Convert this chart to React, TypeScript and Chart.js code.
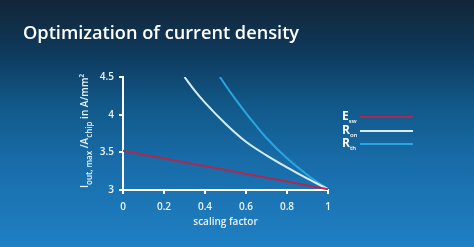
import React, { useEffect, useRef } from "react";
import { Chart, registerables } from "chart.js";

Chart.register(...registerables);

const TITLE = "Optimization of current density";
const X_TITLE = "scaling factor";

const xTicks = [0, 0.2, 0.4, 0.6, 0.8, 1];
const yTicks = [3, 3.5, 4, 4.5];

const eswX = [0, 1];
const eswY = [3.52, 3.01];

const ronX = [0.3, 0.35, 0.4, 0.5, 0.6, 0.7, 0.8, 0.9, 1.0];
const ronY = [4.5, 4.32, 4.16, 3.88, 3.64, 3.46, 3.3, 3.15, 3.01];

const rthX = [0.473, 0.5, 0.55, 0.6, 0.65, 0.7, 0.8, 0.9, 1.0];
const rthY = [4.5, 4.39, 4.2, 4.02, 3.85, 3.69, 3.42, 3.2, 3.01];

const seriesNames = [
  { main: "E", sub: "sw" },
  { main: "R", sub: "on" },
  { main: "R", sub: "th" },
];
const seriesColors = ["#b02850", "#d6eef9", "#2aa5df"];

const FONT = "'Open Sans', 'DejaVu Sans', sans-serif";

const toPts = (xs: number[], ys: number[]) => xs.map((x, i) => ({ x, y: ys[i] }));

const overlayPlugin = {
  id: "overlay",
  afterDraw(chart: any) {
    const ctx = chart.ctx as CanvasRenderingContext2D;
    const area = chart.chartArea;
    ctx.save();
    // Title
    ctx.fillStyle = "#ffffff";
    ctx.textBaseline = "alphabetic";
    ctx.textAlign = "left";
    ctx.font = `600 18.2px ${FONT}`;
    ctx.fillText(TITLE, 23, 39);

    // X axis title
    ctx.font = `600 10px ${FONT}`;
    ctx.textAlign = "center";
    ctx.fillStyle = "#e8f2fa";
    ctx.fillText(X_TITLE, (area.left + area.right) / 2, 225);

    // Y axis title (rotated, with subscripts)
    ctx.save();
    ctx.translate(88, 188);
    ctx.rotate(-Math.PI / 2);
    ctx.textAlign = "left";
    const parts: { t: string; sub: boolean }[] = [
      { t: "I", sub: false },
      { t: "out, max", sub: true },
      { t: " /A", sub: false },
      { t: "chip", sub: true },
      { t: " in A/mm²", sub: false },
    ];
    let cx = 0;
    for (const p of parts) {
      ctx.font = p.sub ? `600 8px ${FONT}` : `600 10px ${FONT}`;
      ctx.fillText(p.t, cx, p.sub ? 4 : 0);
      cx += ctx.measureText(p.t).width;
    }
    ctx.restore();

    // Legend
    const legY = [117, 131, 144];
    seriesNames.forEach((n, i) => {
      const y = legY[i];
      ctx.fillStyle = "#ffffff";
      ctx.font = `700 12px ${FONT}`;
      ctx.textAlign = "left";
      ctx.textBaseline = "alphabetic";
      ctx.fillText(n.main, 342, y + 3);
      const w = ctx.measureText(n.main).width;
      ctx.font = `600 6px ${FONT}`;
      ctx.fillText(n.sub, 342 + w, y + 6);
      ctx.strokeStyle = seriesColors[i];
      ctx.lineWidth = 2;
      ctx.beginPath();
      ctx.moveTo(360, y);
      ctx.lineTo(413, y);
      ctx.stroke();
    });
    ctx.restore();
  },
};

export default function App() {
  const ref = useRef<HTMLCanvasElement>(null);
  useEffect(() => {
    document.body.style.margin = "0";
    const canvas = ref.current!;
    const chart = new Chart(canvas, {
      type: "scatter",
      data: {
        datasets: [
          { label: "Esw", data: toPts(eswX, eswY), borderColor: seriesColors[0] },
          { label: "Ron", data: toPts(ronX, ronY), borderColor: seriesColors[1] },
          { label: "Rth", data: toPts(rthX, rthY), borderColor: seriesColors[2] },
        ].map((d) => ({
          ...d,
          showLine: true,
          borderWidth: 2,
          pointRadius: 0,
          cubicInterpolationMode: "monotone" as const,
          fill: false,
        })),
      },
      options: {
        animation: false,
        responsive: false,
        layout: { padding: { top: 77, right: 146, left: 0, bottom: 0 } },
        plugins: { legend: { display: false }, tooltip: { enabled: false } },
        scales: {
          x: {
            type: "linear",
            min: 0,
            max: 1,
            afterFit: (s: any) => { s.height = 57; },
            afterBuildTicks: (s: any) => { s.ticks = xTicks.map((v) => ({ value: v })); },
            border: { color: "#ffffff", width: 2 },
            grid: { display: true, drawOnChartArea: false, drawTicks: true, tickLength: 4, color: "#ffffff", lineWidth: 2 },
            ticks: {
              color: "#eef5fb",
              font: { family: FONT, size: 10, weight: "600" },
              padding: 7,
              maxRotation: 0,
              callback: (v: any) => String(v),
            },
          },
          y: {
            type: "linear",
            min: 3,
            max: 4.5,
            afterFit: (s: any) => { s.width = 123; },
            afterBuildTicks: (s: any) => { s.ticks = yTicks.map((v) => ({ value: v })); },
            border: { color: "#ffffff", width: 2 },
            grid: { display: true, drawOnChartArea: false, drawTicks: true, tickLength: 4, color: "#ffffff", lineWidth: 2 },
            ticks: {
              color: "#eef5fb",
              font: { family: FONT, size: 10, weight: "600" },
              padding: 5,
              callback: (v: any) => String(v),
            },
          },
        },
      },
      plugins: [overlayPlugin],
    });
    return () => chart.destroy();
  }, []);
  return (
    <div
      style={{
        width: 474,
        height: 247,
        background:
          "linear-gradient(to bottom, #132536 0%, #0e3a5e 22%, #115888 42%, #186ca8 65%, #1f80c4 100%)",
      }}
    >
      <canvas ref={ref} width={474} height={247} style={{ display: "block" }} />
    </div>
  );
}
